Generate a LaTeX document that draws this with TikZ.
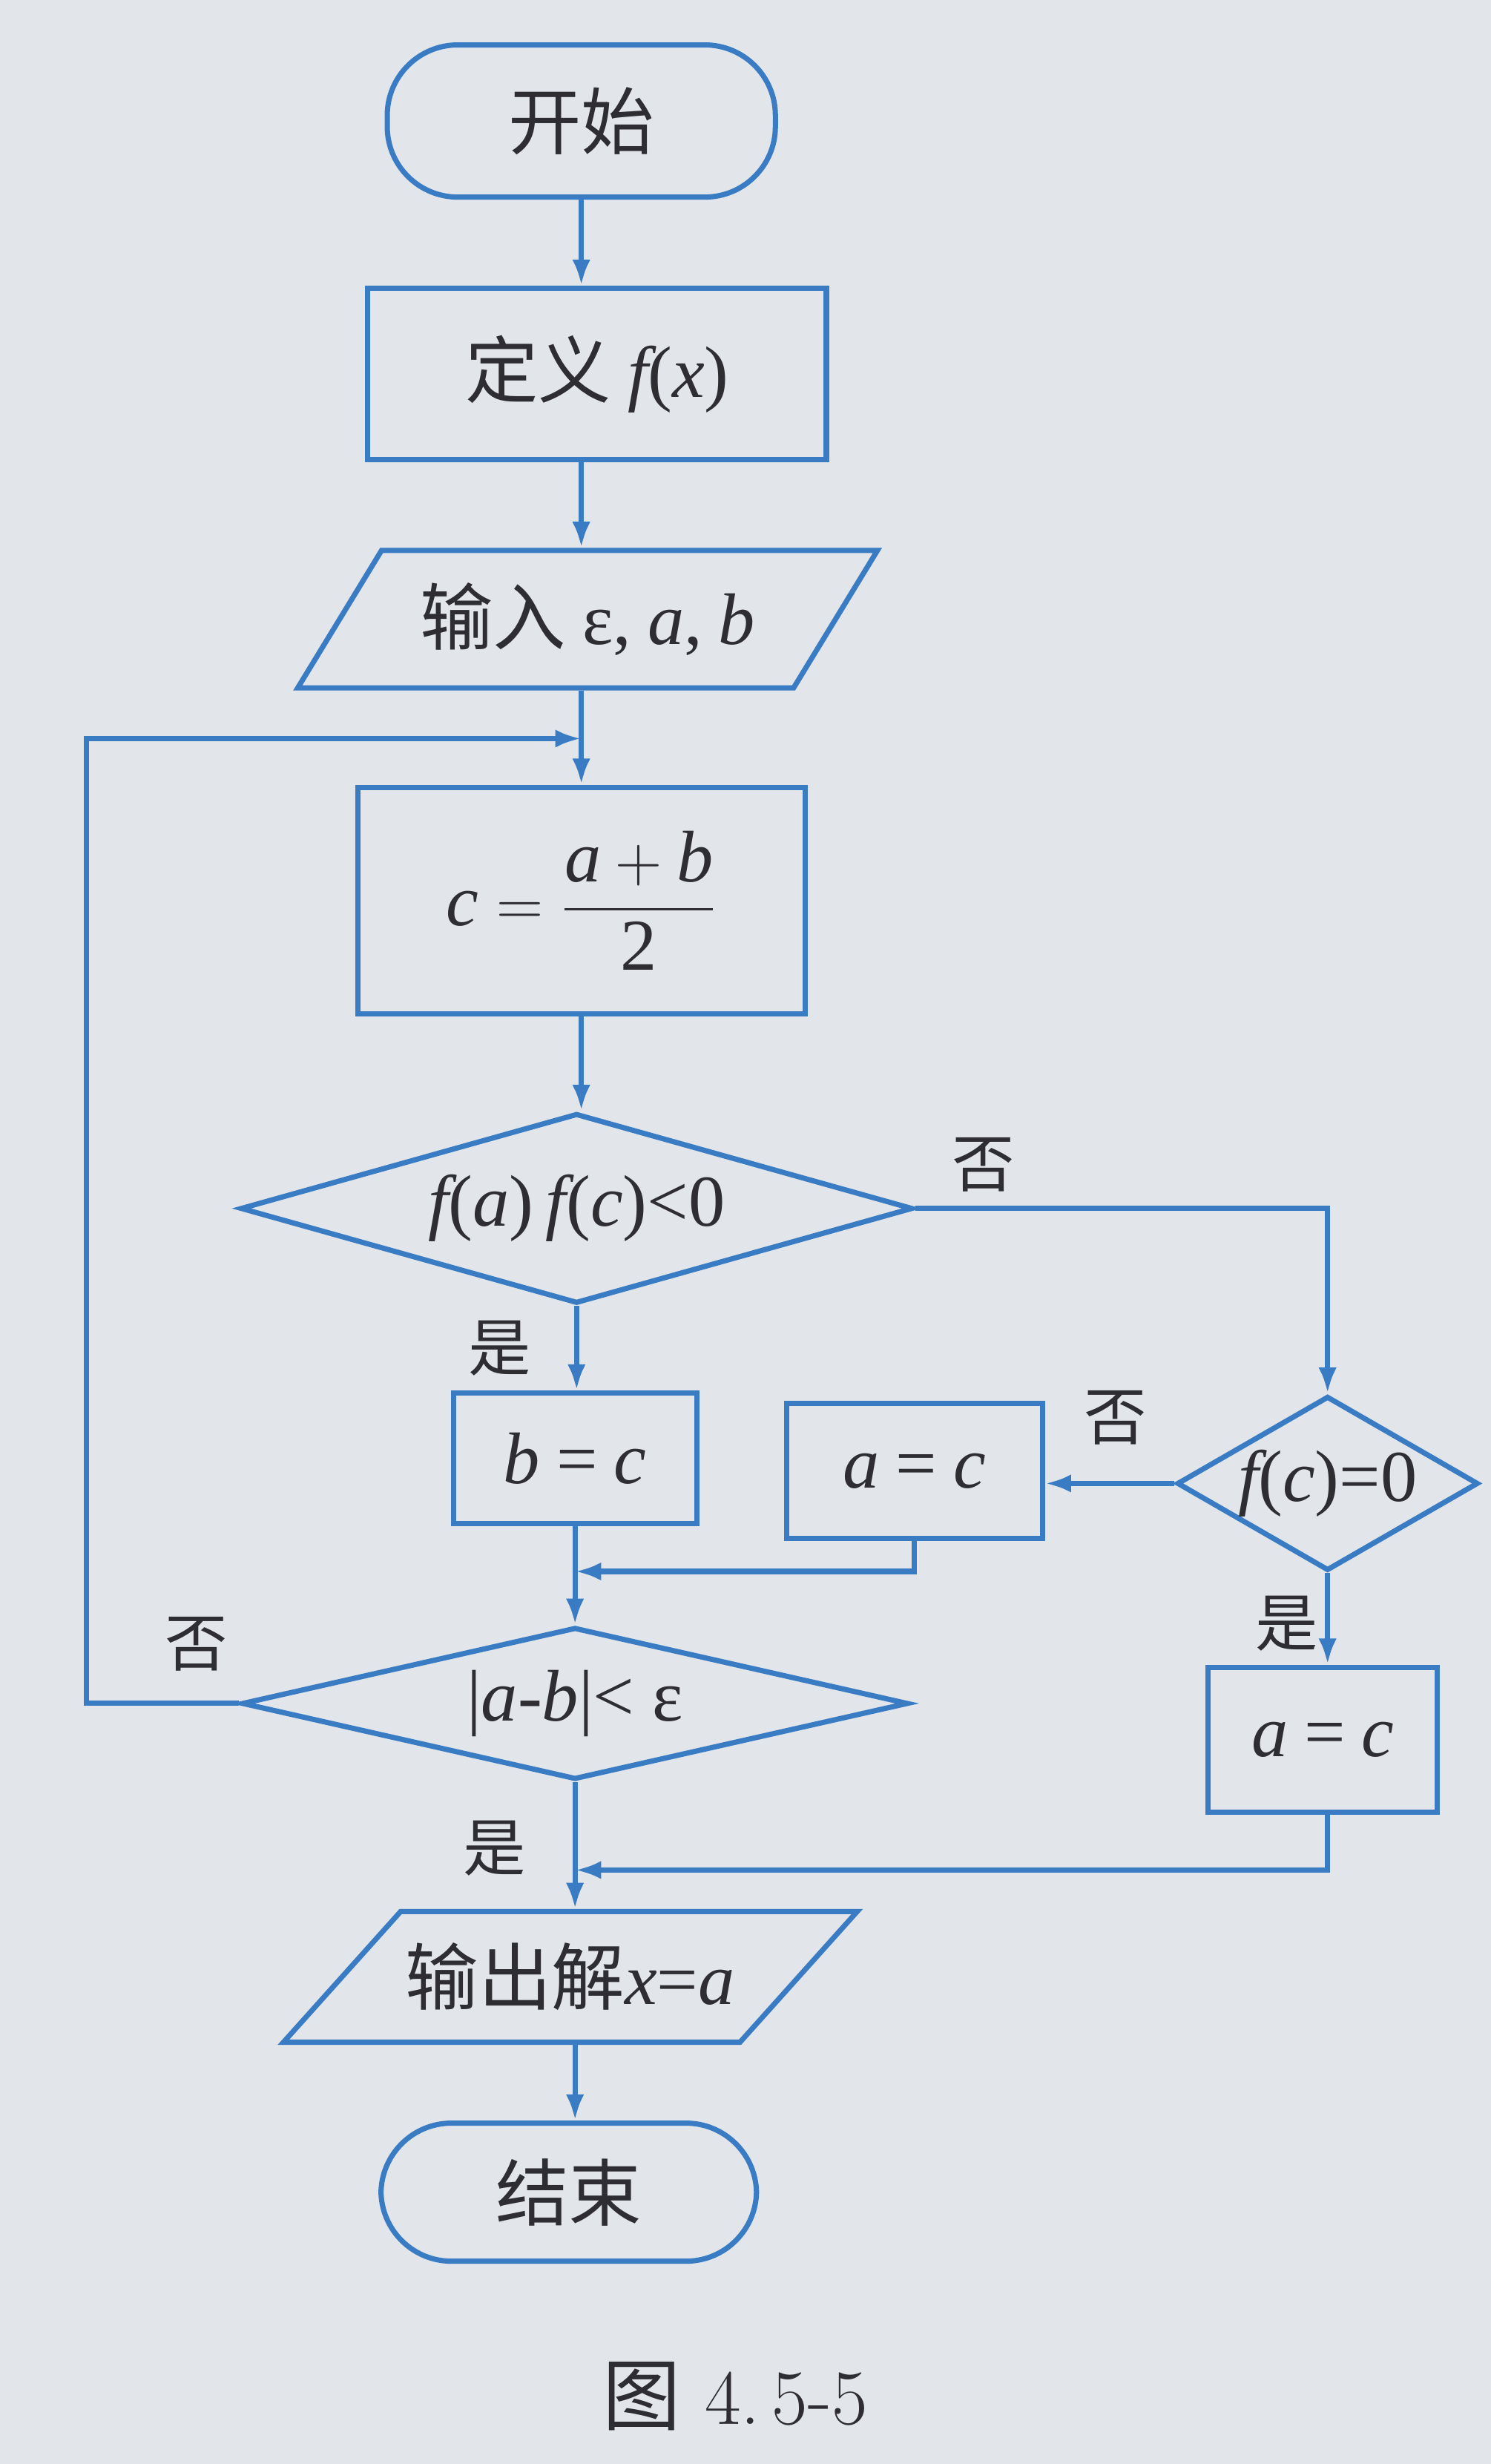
\documentclass[tikz,border=0pt]{standalone}
\usepackage{amsmath}
\usepackage{fontspec}
\newfontfamily\cjk{Noto Sans CJK SC}
\newfontfamily\tms{Liberation Serif}
\usetikzlibrary{positioning,arrows.meta,shapes.geometric}
\definecolor{flowblue}{RGB}{58,124,196}
\definecolor{paper}{RGB}{226,229,234}
\definecolor{ink}{RGB}{45,45,50}
\newcommand*{\iv}[1]{{\tms\itshape #1}}
\tikzset{%
  block/.style={draw=flowblue, line width=2pt, text=ink, inner sep=0pt,
    font=\cjk\fontsize{28}{34}\selectfont},% every box of the chart
  term/.style={block, rectangle, rounded corners=0.95cm},% start / stop
  proc/.style={block, rectangle},% assignment
  io/.style={block, trapezium, trapezium stretches body=true},% input / output
  cond/.style={block, diamond},% test
  flow/.style={draw=flowblue, line width=2pt, -{Latex[length=10pt,width=7pt]}},
  tag/.style={text=ink, font=\cjk\fontsize{24}{28}\selectfont}% yes / no
}

\begin{document}
\begin{tikzpicture}[x=0.2117mm, y=-0.2117mm]
\fill[paper] (0,0) rectangle (949,1568);
\useasboundingbox (0,0) rectangle (949,1568);

\node[term, minimum width=5.23cm, minimum height=2.05cm] (start) at (370,77) {开始};
\node[proc, minimum width=6.18cm, minimum height=2.31cm] (define) at (380,238) {定义 \iv{f}{\tms(}\iv{x}{\tms)}};
\node[io, trapezium left angle=41, trapezium right angle=139,
  minimum width=7.81cm, minimum height=1.85cm] (input) at (374,394) {输入 {\tms ε}{\tms,} \iv{a}{\tms,} \iv{b}};
\node[proc, minimum width=6.03cm, minimum height=3.05cm] (calc) at (370,573)
  {$\text{\iv{c}}=\dfrac{\text{\iv{a}}+\text{\iv{b}}}{\text{\tms 2}}$};
\node[cond, aspect=3.5, minimum width=9.06cm, minimum height=2.56cm] (test) at (367,769)
  {\iv{f}{\tms(}\iv{a}{\tms)}\,\iv{f}{\tms(}\iv{c}{\tms)<0}};
\node[proc, minimum width=3.28cm, minimum height=1.76cm] (bset) at (366,928) {\iv{b} {\tms=} \iv{c}};
\node[proc, minimum width=3.45cm, minimum height=1.82cm] (aset) at (582,936) {\iv{a} {\tms=} \iv{c}};
\node[cond, aspect=1.7, minimum width=4.06cm, minimum height=2.35cm] (zero) at (845,944)
  {\iv{f}{\tms(}\iv{c}{\tms)=0}};
\node[proc, minimum width=3.09cm, minimum height=1.95cm] (aset2) at (842,1107) {\iv{a} {\tms=} \iv{c}};
\node[cond, aspect=4.4, minimum width=8.98cm, minimum height=2.05cm] (check) at (366,1084)
  {{\tms|}\iv{a}{\tms-}\iv{b}{\tms|< ε}};
\node[io, trapezium left angle=30, trapezium right angle=150,
  minimum width=7.73cm, minimum height=1.76cm] (output) at (363,1258) {输出解\iv{x}{\tms=}\iv{a}};
\node[term, minimum width=5.06cm, minimum height=1.86cm] (stop) at (362,1395) {结束};

\node[text=ink, font=\fontsize{30}{36}\selectfont] (caption) at (468,1525) {{\cjk 图} 4.\hspace{0.15em}5-5};

\node[tag] at (318,858) {是};
\node[tag] at (626,741) {否};
\node[tag] at (710,902) {否};
\node[tag] at (819,1033) {是};
\node[tag] at (125,1046) {否};
\node[tag] at (315,1176) {是};

\coordinate (back) at (55,470);
\coordinate (join0) at (370,470);
\coordinate (join1) at (366,1000);
\coordinate (join2) at (366,1190);

\draw[flow] (start) -- (start |- define.north);
\draw[flow] (start |- define.south) -- (start |- input.north);
\draw[flow] (calc |- input.south) -- (calc);
\draw[flow] (calc.south) -- (calc.south |- test.north);
\draw[flow] (test) -- (test |- bset.north);
\draw[flow] (test.east) -| (zero.north);
\draw[flow] (zero.west) -- (zero.west -| aset.east);
\draw[flow] (zero.south) -- (zero.south |- aset2.north);
\draw[flow] (bset) -- (check);
\draw[flow] (aset.south) |- (join1);
\draw[flow] (check.west) -| (back) -- (join0);
\draw[flow] (check) -- (check |- output.north);
\draw[flow] (zero.south |- aset2.south) |- (join2);
\draw[flow] (check |- output.south) -- (check |- stop.north);

\end{tikzpicture}
\end{document}
